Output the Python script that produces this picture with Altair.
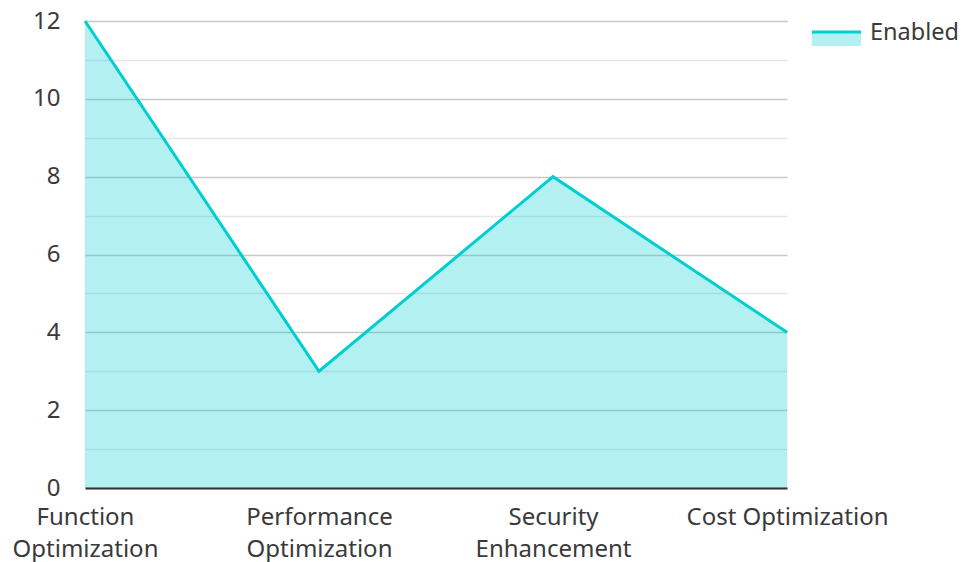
import altair as alt
import pandas as pd

categories = ["Function Optimization", "Performance Optimization", "Security Enhancement", "Cost Optimization"]
label_lines = [["Function", "Optimization"], ["Performance", "Optimization"], ["Security", "Enhancement"], ["Cost Optimization"]]
values = [12, 3, 8, 4]
series_name = "Enabled"

df = pd.DataFrame({"category": categories, "value": values})
label_map = {c: l for c, l in zip(categories, label_lines)}
label_expr = "{" + ",".join(f'"{c}": {l}' for c, l in label_map.items()).replace("'", '"') + "}[datum.value]"

LINE = "#00CED1"
FONT = "Noto Sans"
TXT = "#3a3a3a"
FS = 24

x_enc = alt.X("category:N", sort=categories, scale=alt.Scale(type="point", padding=0),
              axis=alt.Axis(title=None, labelAngle=0, labelFontSize=FS, labelColor=TXT,
                            labelFont=FONT, labelExpr=label_expr, labelPadding=17,
                            labelLineHeight=32, ticks=False, domainColor="#333333",
                            domainWidth=2, grid=False, labelBaseline="top", zindex=2,
                            labelOverlap=False, labelBound=False, labelLimit=0))
y_enc = alt.Y("value:Q", scale=alt.Scale(domain=[0, 12], nice=False),
              axis=alt.Axis(title=None, values=list(range(0, 13)), labelExpr="datum.value % 2 == 0 ? datum.label : ''",
                            labelFontSize=FS, labelColor=TXT, labelFont=FONT, ticks=False,
                            domain=False, labelPadding=25,
                            gridColor=alt.condition("datum.value % 2 == 0", alt.value("#c8c8c8"), alt.value("#e6e6e6")),
                            gridWidth=1.5))

area = alt.Chart(df).mark_area(color=LINE, opacity=0.3).encode(x=x_enc, y=y_enc)
line = alt.Chart(df).mark_line(color=LINE, strokeWidth=3).encode(x=x_enc, y=y_enc)

leg = pd.DataFrame({"name": [series_name]})
leg_rect = alt.Chart(leg).mark_rect(color=LINE, opacity=0.3, clip=False).encode(
    x=alt.value(727), x2=alt.value(776), y=alt.value(10), y2=alt.value(25))
leg_line = alt.Chart(leg).mark_rule(color=LINE, strokeWidth=3, clip=False).encode(
    x=alt.value(727), x2=alt.value(776), y=alt.value(11))
leg_text = alt.Chart(leg).mark_text(align="left", baseline="middle", fontSize=23.5, font=FONT, color=TXT, clip=False).encode(
    x=alt.value(785), y=alt.value(12), text="name:N")

chart = alt.layer(area, line, leg_rect, leg_line, leg_text).properties(
    width=702, height=467, autosize=alt.AutoSizeParams(type="none"),
    padding={"left": 77, "top": 13, "right": 173, "bottom": 74}
).configure(font=FONT, view=alt.ViewConfig(stroke=None))

chart.save("out.html", embed_options={"renderer": "svg", "actions": False})
